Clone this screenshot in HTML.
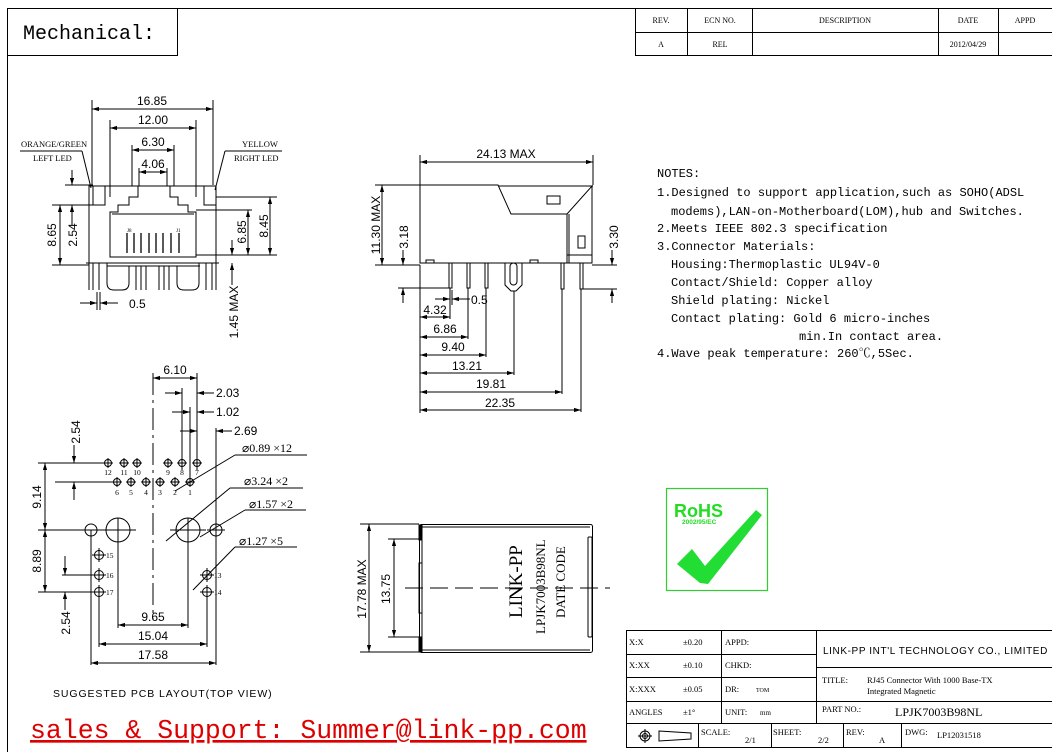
<!DOCTYPE html>
<html><head><meta charset="utf-8"><style>
html,body{margin:0;padding:0;background:#fff;}
svg{display:block;}
text{font-family:"Liberation Sans",sans-serif;fill:#000;}
.m,.m text,text.m{font-family:"Liberation Mono","Noto Serif CJK SC",monospace;}
.s,.s text,text.s{font-family:"Liberation Serif","Noto Serif CJK SC",serif;}
.n text{font-family:"Liberation Mono","Noto Serif CJK SC",monospace;}
</style></head><body>
<svg width="1052" height="752" viewBox="0 0 1052 752" xmlns="http://www.w3.org/2000/svg">
<defs>
<marker id="a" viewBox="0 0 10 10" refX="10" refY="5" markerWidth="7" markerHeight="7" orient="auto-start-reverse"><path d="M0,2 L10,5 L0,8 z" fill="#000"/></marker>
</defs>
<g stroke="#000" fill="none" stroke-width="1">
<line x1="7" y1="8.5" x2="1052" y2="8.5"/>
<line x1="7.5" y1="8" x2="7.5" y2="752"/>
<rect x="7.5" y="8.5" width="170" height="47"/>
<rect x="635.5" y="8.5" width="417" height="47"/>
<line x1="635" y1="32.5" x2="1052" y2="32.5"/>
<line x1="687.5" y1="8" x2="687.5" y2="55"/><line x1="752.5" y1="8" x2="752.5" y2="55"/>
<line x1="938.5" y1="8" x2="938.5" y2="55"/><line x1="998.5" y1="8" x2="998.5" y2="55"/>
<rect x="626.5" y="630.5" width="426" height="117"/>
<line x1="626" y1="654.5" x2="816" y2="654.5"/>
<line x1="626" y1="677.5" x2="816" y2="677.5"/>
<line x1="626" y1="701.5" x2="1052" y2="701.5"/>
<line x1="626" y1="723.5" x2="1052" y2="723.5"/>
<line x1="816" y1="667.5" x2="1052" y2="667.5"/>
<line x1="721.5" y1="630" x2="721.5" y2="723"/>
<line x1="816.5" y1="630" x2="816.5" y2="723"/>
<line x1="698.5" y1="723" x2="698.5" y2="748"/><line x1="771.5" y1="723" x2="771.5" y2="748"/>
<line x1="843.5" y1="723" x2="843.5" y2="748"/><line x1="901.5" y1="723" x2="901.5" y2="748"/>
<circle cx="645" cy="736" r="5"/><circle cx="645" cy="736" r="2.5"/><line x1="638" y1="736" x2="652" y2="736"/><line x1="645" y1="729" x2="645" y2="743"/>
<path d="M659,731 L691,733 L691,739 L659,741 Z"/>

<g>
<line x1="92" y1="100" x2="92" y2="185"/><line x1="213" y1="100" x2="213" y2="185"/>
<line x1="92" y1="109" x2="213" y2="109" marker-start="url(#a)" marker-end="url(#a)"/>
<line x1="110" y1="120" x2="110" y2="197"/><line x1="196" y1="120" x2="196" y2="197"/>
<line x1="110" y1="128" x2="196" y2="128" marker-start="url(#a)" marker-end="url(#a)"/>
<line x1="132" y1="145" x2="132" y2="186"/><line x1="174" y1="145" x2="174" y2="186"/>
<line x1="132" y1="150" x2="174" y2="150" marker-start="url(#a)" marker-end="url(#a)"/>
<line x1="139" y1="168" x2="139" y2="186"/><line x1="167" y1="168" x2="167" y2="186"/>
<line x1="139" y1="172" x2="167" y2="172" marker-start="url(#a)" marker-end="url(#a)"/>
<path d="M89,263 L89,186 L216,186 L216,263"/>
<rect x="93" y="186" width="12" height="19"/><rect x="204" y="186" width="12" height="19"/>
<path d="M138,186 L138,197 L129,197 L129,205 L118,205 L118,212 L110,212 L110,257 L196,257 L196,212 L188,212 L188,205 L178,205 L178,197 L170,197 L170,186"/>
<line x1="112" y1="214" x2="194" y2="214"/>
<line x1="86" y1="263" x2="219" y2="263"/>
<line x1="107" y1="266" x2="200" y2="266"/>
<g stroke-width="1.3">
<line x1="127" y1="233" x2="127" y2="253"/><line x1="134" y1="233" x2="134" y2="253"/><line x1="141" y1="233" x2="141" y2="253"/><line x1="149" y1="233" x2="149" y2="253"/><line x1="156" y1="233" x2="156" y2="253"/><line x1="163" y1="233" x2="163" y2="253"/><line x1="171" y1="233" x2="171" y2="253"/><line x1="179" y1="233" x2="179" y2="253"/>
</g>
<path d="M89,263 L89,290 M93,263 L93,290 M99,263 L99,290"/>
<path d="M107,263 L107,283 Q107,290 114,290 L122,290 Q129,290 129,283 L129,266"/>
<path d="M136,266 L136,290 M141,266 L141,290 M146,266 L146,290 M159,266 L159,290 M164,266 L164,290 M169,266 L169,290"/>
<path d="M177,266 L177,283 Q177,290 184,290 L192,290 Q199,290 199,283 L199,263"/>
<path d="M206,263 L206,290 M212,263 L212,290 M216,263 L216,290"/>
<line x1="97" y1="292" x2="97" y2="310"/><line x1="100" y1="292" x2="100" y2="310"/>
<line x1="80" y1="303" x2="97" y2="303" marker-end="url(#a)"/><line x1="118" y1="303" x2="100" y2="303" marker-end="url(#a)"/>
<line x1="52" y1="205" x2="93" y2="205"/><line x1="52" y1="265" x2="89" y2="265"/><line x1="65" y1="185" x2="93" y2="185"/>
<line x1="60" y1="205" x2="60" y2="265" marker-start="url(#a)" marker-end="url(#a)"/>
<line x1="72" y1="170" x2="72" y2="185" marker-end="url(#a)"/><line x1="72" y1="225" x2="72" y2="205" marker-end="url(#a)"/>
<line x1="216" y1="197" x2="277" y2="197"/><line x1="196" y1="210" x2="252" y2="210"/><line x1="196" y1="255" x2="277" y2="255"/>
<line x1="248" y1="210" x2="248" y2="255" marker-start="url(#a)" marker-end="url(#a)"/>
<line x1="270" y1="197" x2="270" y2="255" marker-start="url(#a)" marker-end="url(#a)"/>
<line x1="232" y1="240" x2="232" y2="255" marker-end="url(#a)"/><line x1="232" y1="285" x2="232" y2="263" marker-end="url(#a)"/>
<line x1="20" y1="151" x2="82" y2="151"/><line x1="82" y1="151" x2="91" y2="188"/>
<line x1="225" y1="151" x2="282" y2="151"/><line x1="225" y1="151" x2="215" y2="190"/>
</g>

<g>
<line x1="420" y1="155" x2="420" y2="185"/><line x1="593" y1="155" x2="593" y2="185"/>
<line x1="420" y1="162" x2="593" y2="162" marker-start="url(#a)" marker-end="url(#a)"/>
<path d="M420,263 L420,185 L498,185 L511,214 L567,214 L592,186 L592,263 Z"/>
<line x1="498" y1="186" x2="593" y2="186"/>
<line x1="567" y1="214" x2="567" y2="263"/><line x1="569" y1="214" x2="569" y2="263"/>
<line x1="567" y1="255" x2="592" y2="255"/>
<rect x="547" y="196" width="13" height="8"/><rect x="578" y="236" width="7" height="12"/>
<rect x="426" y="260" width="8" height="3"/><rect x="530" y="260" width="8" height="3"/>
<path d="M449,263 L449,288 L452,288 L452,263 M467,263 L467,288 L470,288 L470,263 M485,263 L485,288 L488,288 L488,263 M561,263 L561,289 L564,289 L564,263 M580,263 L580,289 L583,289 L583,263"/>
<path d="M505,263 L505,285 L511,291 L516,291 L522,285 L522,263"/>
<rect x="510" y="263" width="7" height="22" rx="3.5"/>
<line x1="375" y1="185" x2="420" y2="185"/><line x1="375" y1="265" x2="420" y2="265"/>
<line x1="382" y1="185" x2="382" y2="265" marker-start="url(#a)" marker-end="url(#a)"/>
<line x1="398" y1="288" x2="449" y2="288"/>
<line x1="403" y1="250" x2="403" y2="265" marker-end="url(#a)"/><line x1="403" y1="303" x2="403" y2="288" marker-end="url(#a)"/>
<line x1="592" y1="265" x2="617" y2="265"/><line x1="583" y1="289" x2="617" y2="289"/>
<line x1="612" y1="250" x2="612" y2="265" marker-end="url(#a)"/><line x1="612" y1="303" x2="612" y2="289" marker-end="url(#a)"/>
<line x1="420" y1="265" x2="420" y2="413"/>
<line x1="450" y1="288" x2="450" y2="319"/><line x1="452" y1="290" x2="452" y2="305"/>
<line x1="468" y1="288" x2="468" y2="339"/><line x1="486" y1="288" x2="486" y2="357"/>
<line x1="514" y1="291" x2="514" y2="375"/><line x1="562" y1="289" x2="562" y2="394"/><line x1="581" y1="289" x2="581" y2="412"/>
<line x1="435" y1="299" x2="450" y2="299" marker-end="url(#a)"/><line x1="470" y1="299" x2="452" y2="299" marker-end="url(#a)"/>
<line x1="420" y1="317" x2="450" y2="317" marker-start="url(#a)" marker-end="url(#a)"/>
<line x1="420" y1="337" x2="468" y2="337" marker-start="url(#a)" marker-end="url(#a)"/>
<line x1="420" y1="355" x2="486" y2="355" marker-start="url(#a)" marker-end="url(#a)"/>
<line x1="420" y1="373" x2="514" y2="373" marker-start="url(#a)" marker-end="url(#a)"/>
<line x1="420" y1="392" x2="562" y2="392" marker-start="url(#a)" marker-end="url(#a)"/>
<line x1="420" y1="410" x2="581" y2="410" marker-start="url(#a)" marker-end="url(#a)"/>
</g>

<g>
<line x1="153" y1="373" x2="153" y2="620" stroke-dasharray="22,5,3,5"/>
<line x1="197" y1="373" x2="197" y2="470"/>
<line x1="153" y1="378" x2="197" y2="378" marker-start="url(#a)" marker-end="url(#a)"/>
<line x1="182" y1="388" x2="182" y2="470"/><line x1="190" y1="407" x2="190" y2="480"/>
<line x1="165" y1="393" x2="182" y2="393" marker-end="url(#a)"/><line x1="214" y1="393" x2="197" y2="393" marker-end="url(#a)"/>
<line x1="172" y1="412" x2="190" y2="412" marker-end="url(#a)"/><line x1="214" y1="412" x2="197" y2="412" marker-end="url(#a)"/>
<line x1="180" y1="431" x2="197" y2="431" marker-end="url(#a)"/><line x1="232" y1="431" x2="216" y2="431" marker-end="url(#a)"/>
<line x1="216" y1="428" x2="216" y2="665"/><line x1="91" y1="530" x2="91" y2="665"/>
<circle cx="108" cy="463" r="3.5"/><circle cx="124" cy="463" r="3.5"/><circle cx="137" cy="463" r="3.5"/><circle cx="168" cy="463" r="3.5"/><circle cx="182" cy="463" r="3.5"/><circle cx="197" cy="463" r="3.5"/>
<circle cx="117" cy="482" r="3.5"/><circle cx="131" cy="482" r="3.5"/><circle cx="146" cy="482" r="3.5"/><circle cx="160" cy="482" r="3.5"/><circle cx="175" cy="482" r="3.5"/><circle cx="190" cy="482" r="3.5"/>
<path d="M103,463h10M108,458v10M119,463h10M124,458v10M132,463h10M137,458v10M163,463h10M168,458v10M177,463h10M182,458v10M192,463h10M197,458v10"/>
<path d="M112,482h10M117,477v10M126,482h10M131,477v10M141,482h10M146,477v10M155,482h10M160,477v10M170,482h10M175,477v10M185,482h10M190,477v10"/>
<circle cx="118" cy="530" r="12"/><circle cx="188" cy="530" r="12"/>
<circle cx="91" cy="530" r="6"/><circle cx="216" cy="530" r="6"/>
<path d="M100,530h36M118,518v24M170,530h36M188,518v24M82,530h18M207,530h18"/>
<line x1="38" y1="530" x2="82" y2="530"/><line x1="38" y1="463" x2="104" y2="463"/><line x1="38" y1="592" x2="94" y2="592"/>
<line x1="45" y1="463" x2="45" y2="530" marker-start="url(#a)" marker-end="url(#a)"/>
<line x1="45" y1="530" x2="45" y2="592" marker-start="url(#a)" marker-end="url(#a)"/>
<line x1="55" y1="482" x2="112" y2="482"/>
<line x1="74" y1="445" x2="74" y2="463" marker-end="url(#a)"/><line x1="74" y1="500" x2="74" y2="482" marker-end="url(#a)"/>
<line x1="62" y1="575" x2="94" y2="575"/>
<line x1="65" y1="556" x2="65" y2="575" marker-end="url(#a)"/><line x1="65" y1="610" x2="65" y2="592" marker-end="url(#a)"/>
<circle cx="99" cy="555" r="4.5"/><circle cx="99" cy="575" r="4.5"/><circle cx="99" cy="592" r="4.5"/>
<circle cx="207" cy="575" r="4.5"/><circle cx="207" cy="592" r="4.5"/>
<path d="M92,555h14M99,548v14M92,575h14M99,568v14M92,592h14M99,585v14M200,575h14M207,568v14M200,592h14M207,585v14"/>
<line x1="118" y1="542" x2="118" y2="628"/><line x1="188" y1="542" x2="188" y2="628"/>
<line x1="99" y1="597" x2="99" y2="647"/><line x1="207" y1="597" x2="207" y2="647"/>
<line x1="118" y1="625" x2="188" y2="625" marker-start="url(#a)" marker-end="url(#a)"/>
<line x1="99" y1="644" x2="207" y2="644" marker-start="url(#a)" marker-end="url(#a)"/>
<line x1="91" y1="663" x2="216" y2="663" marker-start="url(#a)" marker-end="url(#a)"/>
<line x1="235" y1="455" x2="307" y2="455"/><line x1="235" y1="455" x2="175" y2="491"/>
<line x1="230" y1="488" x2="303" y2="488"/><line x1="230" y1="488" x2="166" y2="541"/>
<line x1="245" y1="510" x2="306" y2="510"/><line x1="245" y1="510" x2="200" y2="537"/>
<line x1="235" y1="547" x2="297" y2="547"/><line x1="235" y1="547" x2="193" y2="590"/>
</g>

<g>
<rect x="419.5" y="524.5" width="173" height="128" rx="2"/>
<line x1="422" y1="527" x2="590" y2="527"/><line x1="422" y1="650" x2="590" y2="650"/>
<line x1="422" y1="527" x2="422" y2="650"/>
<rect x="419" y="525" width="3" height="15" fill="#000"/><rect x="419" y="637" width="3" height="15" fill="#000"/>
<rect x="419" y="563" width="3" height="50"/>
<rect x="588" y="537" width="4" height="100" rx="1"/>
<line x1="360" y1="524" x2="419" y2="524"/><line x1="360" y1="652" x2="419" y2="652"/>
<line x1="369" y1="524" x2="369" y2="652" marker-start="url(#a)" marker-end="url(#a)"/>
<line x1="388" y1="539" x2="419" y2="539"/><line x1="388" y1="637" x2="419" y2="637"/>
<line x1="394" y1="539" x2="394" y2="637" marker-start="url(#a)" marker-end="url(#a)"/>
<line x1="405" y1="588" x2="610" y2="588" stroke-dasharray="18,7"/>
</g>
</g>

<rect x="666.5" y="488.5" width="101" height="102" fill="none" stroke="#3c3" stroke-width="1.2"/>
<text x="674" y="517" style="font-weight:bold;font-size:18px;fill:#2d2">RoHS</text>
<text x="682" y="524" style="font-weight:bold;font-size:6.5px;fill:#2d2">2002/95/EC</text>
<path d="M677,564 L692,549 L705,566 L756,510 L762,515 L708,584 L700,583 Z" fill="#2d3"/>

<text x="23" y="39" class="m" style="font-size:20px">Mechanical:</text>
<g class="s" style="font-size:8px" text-anchor="middle">
<text x="661" y="23">REV.</text><text x="720" y="23">ECN NO.</text><text x="845" y="23">DESCRIPTION</text><text x="968" y="23">DATE</text><text x="1025" y="23">APPD</text>
<text x="661" y="47">A</text><text x="720" y="47">REL</text><text x="968" y="47">2012/04/29</text>
</g>
<g style="font-size:12px" text-anchor="middle">
<text x="152" y="105">16.85</text><text x="153" y="124">12.00</text><text x="153" y="146">6.30</text><text x="153" y="168">4.06</text>
<text x="129" y="308" text-anchor="start">0.5</text>
<text transform="translate(56,235) rotate(-90)">8.65</text>
<text transform="translate(77,235) rotate(-90)">2.54</text>
<text transform="translate(246,232) rotate(-90)">6.85</text>
<text transform="translate(268,226) rotate(-90)">8.45</text>
<text transform="translate(238,312) rotate(-90)">1.45 MAX</text>
<text x="506" y="158">24.13 MAX</text>
<text transform="translate(380,225) rotate(-90)">11.30 MAX</text>
<text transform="translate(408,237) rotate(-90)">3.18</text>
<text transform="translate(618,237) rotate(-90)">3.30</text>
<text x="471" y="304" text-anchor="start">0.5</text>
<text x="435" y="314">4.32</text><text x="445" y="333">6.86</text><text x="453" y="351">9.40</text><text x="467" y="370">13.21</text><text x="491" y="388">19.81</text><text x="500" y="407">22.35</text>
<text x="175" y="374">6.10</text>
<text x="216" y="397" text-anchor="start">2.03</text><text x="216" y="416" text-anchor="start">1.02</text><text x="234" y="435" text-anchor="start">2.69</text>
<text transform="translate(80,432) rotate(-90)">2.54</text>
<text transform="translate(41,497) rotate(-90)">9.14</text>
<text transform="translate(41,561) rotate(-90)">8.89</text>
<text transform="translate(70,623) rotate(-90)">2.54</text>
<text x="153" y="621">9.65</text><text x="153" y="640">15.04</text><text x="153" y="659">17.58</text>
<text transform="translate(366,589) rotate(-90)">17.78 MAX</text>
<text transform="translate(390,589) rotate(-90)">13.75</text>
</g>
<g class="s" style="font-size:8.5px">
<text x="21" y="147">ORANGE/GREEN</text><text x="33" y="161">LEFT LED</text>
<text x="242" y="147">YELLOW</text><text x="234" y="161">RIGHT LED</text>
</g>
<g class="s" style="font-size:5px"><text x="127" y="232">J8</text><text x="176" y="232">J1</text></g>
<g class="s" style="font-size:7.5px" text-anchor="middle">
<text x="108" y="475">12</text><text x="124" y="475">11</text><text x="137" y="475">10</text><text x="168" y="475">9</text><text x="182" y="475">8</text><text x="197" y="475">7</text>
<text x="117" y="495">6</text><text x="131" y="495">5</text><text x="146" y="495">4</text><text x="160" y="495">3</text><text x="175" y="495">2</text><text x="190" y="495">1</text>
</g>
<g class="s" style="font-size:7.5px">
<text x="106" y="558">15</text><text x="106" y="578">16</text><text x="106" y="595">17</text><text x="214" y="578">13</text><text x="214" y="595">14</text>
</g>
<g class="s" style="font-size:12px">
<text x="242" y="452">⌀0.89 ×12</text><text x="244" y="485">⌀3.24 ×2</text><text x="249" y="508">⌀1.57 ×2</text><text x="239" y="545">⌀1.27 ×5</text>
</g>
<text x="53" y="697" style="font-size:10.5px;letter-spacing:0.9px">SUGGESTED PCB LAYOUT(TOP VIEW)</text>
<g class="s">
<text transform="translate(522,618) rotate(-90)" style="font-size:19px">LINK-PP</text>
<text transform="translate(545,634) rotate(-90)" style="font-size:13px">LPJK7003B98NL</text>
<text transform="translate(565,618) rotate(-90)" style="font-size:13px">DATE CODE</text>
</g>
<g class="n" style="font-size:12px">
<text x="657" y="177">NOTES:</text>
<text x="657" y="196">1.Designed to support application,such as SOHO(ADSL</text>
<text x="671" y="215">modems),LAN-on-Motherboard(LOM),hub and Switches.</text>
<text x="657" y="232">2.Meets IEEE 802.3 specification</text>
<text x="657" y="250">3.Connector Materials:</text>
<text x="671" y="268">Housing:Thermoplastic UL94V-0</text>
<text x="671" y="286">Contact/Shield: Copper alloy</text>
<text x="671" y="304">Shield plating: Nickel</text>
<text x="671" y="322">Contact plating: Gold 6 micro-inches</text>
<text x="799" y="340">min.In contact area.</text>
<text x="657" y="357">4.Wave peak temperature: 260℃,5Sec.</text>
</g>
<g class="s" style="font-size:8.5px">
<text x="629" y="645">X:X</text><text x="683" y="645">±0.20</text><text x="725" y="645">APPD:</text>
<text x="629" y="668">X:XX</text><text x="683" y="668">±0.10</text><text x="725" y="668">CHKD:</text>
<text x="629" y="692">X:XXX</text><text x="683" y="692">±0.05</text><text x="725" y="692">DR:</text><text x="756" y="692" style="font-size:6px">TOM</text>
<text x="629" y="715">ANGLES</text><text x="683" y="715">±1°</text><text x="725" y="715">UNIT:</text><text x="760" y="715" style="font-size:7px">mm</text>
<text x="701" y="735">SCALE:</text><text x="745" y="743">2/1</text>
<text x="773" y="735">SHEET:</text><text x="818" y="743">2/2</text>
<text x="846" y="735">REV:</text><text x="879" y="743">A</text>
<text x="905" y="735">DWG:</text><text x="937" y="738">LP12031518</text>
<text x="822" y="683">TITLE:</text><text x="867" y="683">RJ45 Connector With 1000 Base-TX</text>
<text x="867" y="694">Integrated Magnetic</text>
<text x="822" y="712">PART NO.:</text><text x="895" y="716" style="font-size:12px">LPJK7003B98NL</text>
</g>
<text x="823" y="654" style="font-size:10px;letter-spacing:0.6px">LINK-PP INT'L TECHNOLOGY CO., LIMITED</text>
<text x="30" y="738" class="m" style="font-size:26.5px;fill:#d00;text-decoration:underline">sales &amp; Support: Summer@link-pp.com</text>
</svg>
</body></html>
